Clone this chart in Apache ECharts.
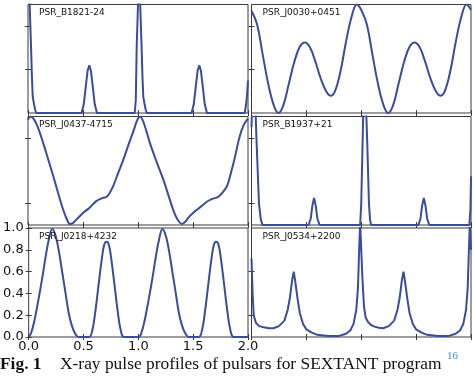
<!DOCTYPE html>
<html><head><meta charset="utf-8">
<script src="https://cdn.jsdelivr.net/npm/echarts@6/dist/echarts.min.js"></script>
<style>html,body{margin:0;padding:0;background:#fff}#c{width:474px;height:379px}</style>
</head><body><div id="c"></div>
<script>
// ---- data ----
const panelNames = ['PSR_B1821-24','PSR_J0030+0451','PSR_J0437-4715','PSR_B1937+21','PSR_J0218+4232','PSR_J0534+2200'];
const xTickLabels = ['0.0','0.5','1.0','1.5','2.0'];
const yTickLabels = ['0.0','0.2','0.4','0.6','0.8','1.0'];
const panelYTicks = [[0.4,0.8],[0.4,0.8],[0.2,0.8],[0.2,0.8],[0.2,0.4,0.6,0.8],[0.2,0.6]];

const b1821 = [[0,1.2],[0.005,1.3],[0.015,1.0],[0.028,0.6],[0.035,0.35],[0.043,0.15],[0.055,0.08],[0.065,0.03],[0.075,0],
  [0.487,0],[0.507,0.08],[0.527,0.26],[0.542,0.39],[0.557,0.44],[0.572,0.39],[0.587,0.26],[0.607,0.08],[0.627,0],
  [0.97,0],[0.98,0.12],[0.988,0.6],[1.0,1.0],[1.01,1.3],[1.02,1.0],[1.033,0.6],[1.04,0.35],[1.048,0.15],[1.06,0.08],[1.07,0.03],[1.08,0],
  [1.487,0],[1.507,0.08],[1.527,0.26],[1.542,0.39],[1.557,0.44],[1.572,0.39],[1.587,0.26],[1.607,0.08],[1.627,0],
  [1.97,0],[1.98,0.06],[1.99,0.15],[2.0,0.3]];

const j0030 = [[0,0.94],[0.05,0.82],[0.1,0.55],[0.15,0.28],[0.2,0.08],[0.245,0],[0.29,0.07],[0.34,0.27],[0.39,0.47],[0.44,0.61],[0.485,0.65],[0.53,0.61],[0.58,0.48],[0.63,0.32],[0.68,0.2],[0.72,0.16],[0.76,0.2],[0.81,0.38],[0.86,0.65],[0.91,0.88],[0.96,1.0],
  [1.0,0.95],[1.05,0.82],[1.1,0.55],[1.15,0.28],[1.2,0.08],[1.245,0],[1.29,0.07],[1.34,0.27],[1.39,0.47],[1.44,0.61],[1.485,0.65],[1.53,0.61],[1.58,0.48],[1.63,0.32],[1.68,0.2],[1.72,0.16],[1.76,0.2],[1.81,0.38],[1.86,0.65],[1.91,0.88],[1.96,1.0],[2.0,0.95]];

const j0437 = [[0,0.97],[0.02,1.0],[0.05,0.98],[0.09,0.9],[0.14,0.75],[0.185,0.6],[0.23,0.45],[0.275,0.29],[0.32,0.14],[0.35,0.06],[0.38,0.01],[0.41,0.02],[0.45,0.06],[0.5,0.11],[0.56,0.16],[0.62,0.22],[0.67,0.245],[0.715,0.26],[0.745,0.3],[0.775,0.36],[0.82,0.48],[0.866,0.6],[0.91,0.73],[0.957,0.86],[0.99,0.96],[1.018,1.0],[1.045,0.96],[1.075,0.87],[1.11,0.75],[1.17,0.58],[1.23,0.42],[1.275,0.28],[1.32,0.14],[1.36,0.05],[1.4,0.01],[1.43,0.03],[1.46,0.07],[1.5,0.11],[1.56,0.16],[1.62,0.21],[1.675,0.24],[1.73,0.26],[1.77,0.3],[1.81,0.36],[1.85,0.5],[1.88,0.62],[1.92,0.8],[1.96,0.92],[2.0,0.98]];

const b1937 = [[0,0.9],[0.01,1.3],[0.025,1.4],[0.047,0.75],[0.068,0.2],[0.085,0.05],[0.1,0],
  [0.52,0],[0.54,0.06],[0.555,0.18],[0.57,0.25],[0.585,0.18],[0.6,0.06],[0.62,0],
  [0.99,0],[1.0,0.2],[1.012,0.75],[1.025,1.4],[1.04,1.2],[1.055,0.75],[1.07,0.2],[1.08,0.05],[1.09,0],
  [1.52,0],[1.54,0.06],[1.555,0.18],[1.57,0.25],[1.585,0.18],[1.6,0.06],[1.62,0],
  [1.985,0],[1.995,0.15],[2.0,0.45]];

const j0218 = [[0,0],[0.02,0.03],[0.05,0.14],[0.085,0.32],[0.125,0.55],[0.155,0.74],[0.185,0.9],[0.215,0.99],[0.245,0.93],[0.275,0.79],[0.305,0.6],[0.335,0.41],[0.365,0.22],[0.395,0.1],[0.425,0.03],[0.455,0],
  [0.55,0],[0.58,0.06],[0.61,0.25],[0.64,0.5],[0.67,0.74],[0.69,0.85],[0.71,0.875],[0.73,0.85],[0.75,0.74],[0.78,0.5],[0.81,0.25],[0.84,0.06],[0.87,0],
  [1.005,0],[1.025,0.03],[1.055,0.14],[1.09,0.32],[1.13,0.55],[1.16,0.74],[1.19,0.9],[1.22,0.99],[1.25,0.93],[1.28,0.79],[1.31,0.6],[1.34,0.41],[1.37,0.22],[1.4,0.1],[1.43,0.03],[1.46,0],
  [1.55,0],[1.58,0.06],[1.61,0.25],[1.64,0.5],[1.67,0.74],[1.69,0.85],[1.71,0.875],[1.73,0.85],[1.75,0.74],[1.78,0.5],[1.81,0.25],[1.84,0.06],[1.87,0],[2.0,0]];

const j0534 = [[0,0.72],[0.01,0.4],[0.02,0.2],[0.04,0.13],[0.07,0.1],[0.11,0.09],[0.16,0.08],[0.2,0.08],[0.25,0.1],[0.3,0.15],[0.33,0.25],[0.35,0.36],[0.37,0.52],[0.385,0.6],[0.4,0.5],[0.42,0.35],[0.44,0.22],[0.47,0.12],[0.5,0.07],[0.55,0.04],[0.6,0.02],[0.7,0.01],[0.8,0.01],[0.86,0.03],[0.9,0.06],[0.93,0.12],[0.955,0.25],[0.97,0.45],[0.98,0.77],[0.99,1.05],
  [1.0,0.8],[1.01,0.55],[1.025,0.28],[1.04,0.18],[1.06,0.14],[1.09,0.11],[1.12,0.095],[1.16,0.085],[1.2,0.08],[1.25,0.1],[1.3,0.15],[1.33,0.25],[1.35,0.36],[1.37,0.52],[1.385,0.6],[1.4,0.5],[1.42,0.35],[1.44,0.22],[1.47,0.12],[1.5,0.07],[1.55,0.04],[1.6,0.02],[1.7,0.01],[1.8,0.01],[1.86,0.03],[1.9,0.06],[1.93,0.12],[1.955,0.25],[1.97,0.45],[1.98,0.77],[1.99,1.05],[2.0,0.8]];

const panelData = [b1821, j0030, j0437, b1937, j0218, j0534];
const smoothFlags = [false, 0.4, 0.3, false, 0.4, false];

// ---- layout ----
const grids = [
  {left:28, top:4.5, width:220, height:108.5},
  {left:251.5, top:4.5, width:219.5, height:108.5},
  {left:28, top:116.5, width:220, height:108.5},
  {left:251.5, top:116.5, width:219.5, height:108.5},
  {left:28, top:228, width:220, height:109},
  {left:251.5, top:228, width:219.5, height:109}
];
const lineColor = '#3a4c9e';
const frameColor = '#3a3a3a';
const tickStyle = {show:true, inside:true, length:3, lineStyle:{color:frameColor, width:1}};
const labelFont = {fontFamily:'DejaVu Sans', fontSize:13, color:'#111'};

const option = {
  animation:false,
  backgroundColor:'#fff',
  grid: grids.map(g => ({...g, show:true, borderColor:frameColor, borderWidth:1, backgroundColor:'#fff', containLabel:false})),
  xAxis: [], yAxis: [], series: [], title: [],
  graphic: [
    {type:'text', x:0, y:356, style:{text:'Fig. 1', font:'bold 17.4px "Liberation Serif"', fill:'#111'}},
    {type:'text', x:60, y:356, style:{text:'X-ray pulse profiles of pulsars for SEXTANT program', font:'17.4px "Liberation Serif"', fill:'#111'}},
    {type:'text', x:447, y:351, style:{text:'16', font:'11px "Liberation Serif"', fill:'#3a8fd0'}}
  ]
};

grids.forEach((g, i) => {
  const isLabelPanel = (i === 4);
  ['bottom','top'].forEach(pos => {
    option.xAxis.push({
      type:'value', gridIndex:i, position:pos, min:0, max:2, interval:0.5,
      axisLine:{show:false}, splitLine:{show:false},
      axisTick:tickStyle,
      axisLabel:{show: isLabelPanel && pos === 'bottom', margin:3, ...labelFont,
        formatter: v => xTickLabels[Math.round(v/0.5)]}
    });
  });
  ['left','right'].forEach(pos => {
    const ax = {
      type:'value', gridIndex:i, position:pos, min:0, max:1,
      axisLine:{show:false}, splitLine:{show:false},
      axisTick:{...tickStyle},
      axisLabel:{show:false}
    };
    if (isLabelPanel) {
      ax.interval = 0.2;
      ax.axisLabel = {show: pos === 'left', margin:5, ...labelFont, formatter: v => yTickLabels[Math.round(v/0.2)]};
    } else {
      ax.axisTick.customValues = panelYTicks[i];
      ax.interval = 0.2;
    }
    option.yAxis.push(ax);
  });
  option.series.push({
    type:'line', xAxisIndex:i*2, yAxisIndex:i*2, data:panelData[i],
    showSymbol:false, smooth:smoothFlags[i], clip:true,
    lineStyle:{color:lineColor, width:2}, itemStyle:{color:lineColor}
  });
  option.title.push({
    text:panelNames[i], left:g.left + 11, top:g.top + 4, padding:0,
    textStyle:{fontFamily:'DejaVu Sans', fontSize:9, fontWeight:'normal', color:'#111'}
  });
});

const chart = echarts.init(document.getElementById('c'), null, {renderer:'canvas'});
chart.setOption(option);
</script></body></html>
